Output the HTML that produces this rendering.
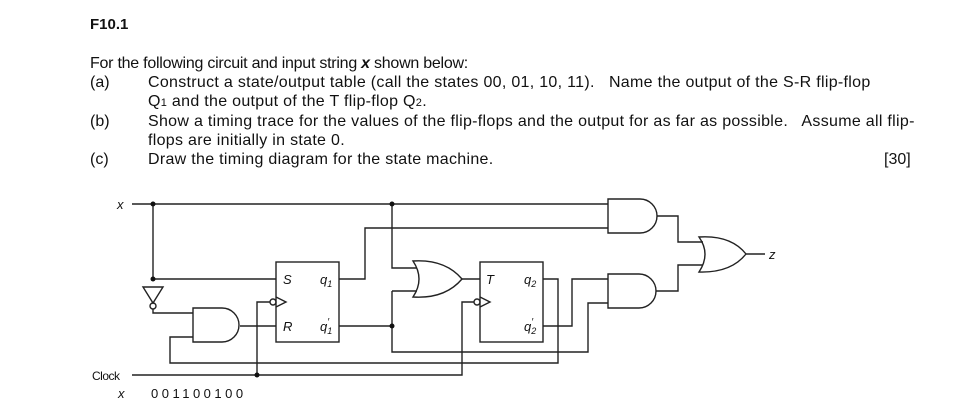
<!DOCTYPE html>
<html><head><style>
body{margin:0;width:954px;height:418px;background:#fff;position:relative;overflow:hidden;font-family:"Liberation Sans",Arial,sans-serif;color:#111}
.t{position:absolute;white-space:nowrap;font-size:16px;line-height:18px}
.w{letter-spacing:0.3px}
svg{position:absolute;left:0;top:0}
</style></head><body>
<div class="t" style="left:90px;top:16px;font-weight:bold;font-size:15px">F10.1</div>
<div class="t" style="left:90px;top:55px;letter-spacing:-0.25px">For the following circuit and input string <b><i>x</i></b> shown below:</div>
<div class="t" style="left:90px;top:74px">(a)</div>
<div class="t w" style="left:148px;top:74px">Construct a state/output table (call the states 00, 01, 10, 11).&nbsp;&nbsp; Name the output of the S-R flip-flop</div>
<div class="t w" style="left:148px;top:93px">Q<span style="font-size:11px">1</span> and the output of the T flip-flop Q<span style="font-size:11px">2</span>.</div>
<div class="t" style="left:90px;top:113px">(b)</div>
<div class="t w" style="left:148px;top:113px">Show a timing trace for the values of the flip-flops and the output for as far as possible.&nbsp;&nbsp; Assume all flip-</div>
<div class="t w" style="left:148px;top:132px">flops are initially in state 0.</div>
<div class="t" style="left:90px;top:151px">(c)</div>
<div class="t w" style="left:148px;top:151px">Draw the timing diagram for the state machine.</div>
<div class="t" style="left:884px;top:151px">[30]</div>
<svg width="954" height="418" viewBox="0 0 954 418">
<g fill="none" stroke="#222" stroke-width="1.4">
<path d="M132 204H608"/>
<path d="M153 204V279H276"/>
<path d="M143 287H163L153 303Z"/>
<circle cx="153" cy="306" r="3"/>
<path d="M153 309V313H193"/>
<path d="M193 308H222A17 17 0 0 1 222 342H193Z"/>
<path d="M193 337H170V363H558V279H543"/>
<path d="M240 326H276"/>
<rect x="276" y="262" width="63" height="80"/>
<path d="M276 297L286 302L276 307"/>
<circle cx="273" cy="302" r="3"/>
<path d="M270 302H257V375"/>
<path d="M132 375H462V302H474"/>
<path d="M339 279H365V228H608"/>
<path d="M339 326H392"/>
<path d="M392 204V268H417"/>
<path d="M392 291H417"/>
<path d="M392 291V352H588V303H608"/>
<path d="M413 261Q445 259 462 279Q445 299 413 297Q425 279 413 261Z"/>
<path d="M462 279H480"/>
<rect x="480" y="262" width="63" height="80"/>
<path d="M480 297L490 302L480 307"/>
<circle cx="477" cy="302" r="3"/>
<path d="M543 326H572V279H608"/>
<path d="M608 199H640A17 17 0 0 1 640 233H608Z"/>
<path d="M657 216H678V242H703"/>
<path d="M608 274H639A17 17 0 0 1 639 308H608Z"/>
<path d="M656 291H678V265H703"/>
<path d="M699 237Q731 235 746 254Q731 273 699 272Q711 254 699 237Z"/>
<path d="M746 254H765"/>
</g>
<g fill="#111">
<circle cx="153" cy="204" r="2.5"/><circle cx="392" cy="204" r="2.5"/>
<circle cx="153" cy="279" r="2.5"/><circle cx="392" cy="326" r="2.5"/>
<circle cx="257" cy="375" r="2.5"/>
</g>
<g font-family="Liberation Sans,Arial,sans-serif" font-size="13" fill="#111">
<text x="117" y="209" font-style="italic">x</text>
<text x="92" y="380" font-size="12" letter-spacing="-0.5">Clock</text>
<text x="118" y="398" font-style="italic">x</text>
<text x="151" y="398" letter-spacing="3.5">001100100</text>
<text x="283" y="284" font-style="italic">S</text>
<text x="283" y="331" font-style="italic">R</text>
<text x="320" y="284" font-style="italic">q<tspan font-size="9" dy="3">1</tspan></text>
<text x="320" y="331" font-style="italic">q<tspan font-size="9" dy="3">1</tspan><tspan font-size="10" dx="-5" dy="-9">′</tspan></text>
<text x="486" y="284" font-style="italic">T</text>
<text x="524" y="284" font-style="italic">q<tspan font-size="9" dy="3">2</tspan></text>
<text x="524" y="331" font-style="italic">q<tspan font-size="9" dy="3">2</tspan><tspan font-size="10" dx="-5" dy="-9">′</tspan></text>
<text x="769" y="259" font-style="italic">z</text>
</g>
</svg>
</body></html>
